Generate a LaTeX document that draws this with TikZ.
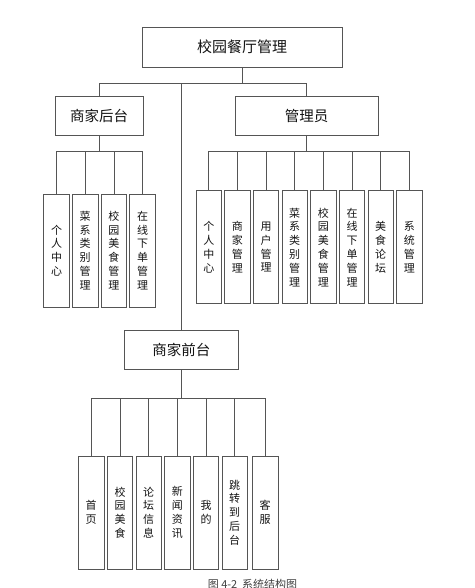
\documentclass[tikz,border=0pt]{standalone}
\usepackage{fontspec}
\newfontfamily\cjk{Noto Sans CJK SC}
\definecolor{ln}{RGB}{85,85,85}
\definecolor{tx}{RGB}{20,20,20}
\begin{document}
\begin{tikzpicture}[x=1pt,y=1pt,
  every node/.style={font=\cjk, text=tx},
  bigbox/.style={draw=ln, line width=0.9pt, minimum height=39pt, inner sep=0pt, font=\cjk\fontsize{14.5}{16}\selectfont},
  leaf/.style={draw=ln, line width=0.9pt, minimum width=25.5pt, minimum height=113pt, inner sep=0pt, align=center, font=\cjk\fontsize{11}{13.8}\selectfont},
  conn/.style={draw=ln, line width=0.8pt}]
\useasboundingbox (0,0) rectangle (474,-588);
\fill[white] (0,0) rectangle (474,-588);

% top level
\node[bigbox, minimum width=200pt, minimum height=40pt, font=\cjk\fontsize{15}{17}\selectfont] (top) at (242,-47) {校园餐厅管理};
\node[bigbox, minimum width=88pt] (hb) at (99,-115.5) {商家后台};
\node[bigbox, minimum width=143pt] (gly) at (306.5,-115.5) {管理员};
\node[bigbox, minimum width=114.7pt] (qt) at (181.4,-349.5) {商家前台};

% bus coordinates
\coordinate (b0) at (0,-83);
\coordinate (b1) at (0,-151);
\coordinate (b2) at (0,-398.7);

% left children
\node[leaf] (l1) at (56.5,-250.5) {个\\人\\中\\心};
\node[leaf] (l2) at (85.2,-250.5) {菜\\系\\类\\别\\管\\理};
\node[leaf] (l3) at (113.9,-250.5) {校\\园\\美\\食\\管\\理};
\node[leaf] (l4) at (142.6,-250.5) {在\\线\\下\\单\\管\\理};

% right children
\node[leaf] (r1) at (208.8,-247.2) {个\\人\\中\\心};
\node[leaf] (r2) at (237.4,-247.2) {商\\家\\管\\理};
\node[leaf] (r3) at (266.1,-247.2) {用\\户\\管\\理};
\node[leaf] (r4) at (294.7,-247.2) {菜\\系\\类\\别\\管\\理};
\node[leaf] (r5) at (323.4,-247.2) {校\\园\\美\\食\\管\\理};
\node[leaf] (r6) at (352.1,-247.2) {在\\线\\下\\单\\管\\理};
\node[leaf] (r7) at (380.7,-247.2) {美\\食\\论\\坛};
\node[leaf] (r8) at (409.4,-247.2) {系\\统\\管\\理};

% bottom children
\node[leaf] (c1) at (91.2,-512.5) {首\\页};
\node[leaf] (c2) at (120,-512.5) {校\\园\\美\\食};
\node[leaf] (c3) at (148.7,-512.5) {论\\坛\\信\\息};
\node[leaf] (c4) at (177.4,-512.5) {新\\闻\\资\\讯};
\node[leaf] (c5) at (206,-512.5) {我\\的};
\node[leaf] (c6) at (234.7,-512.5) {跳\\转\\到\\后\\台};
\node[leaf] (c7) at (265.2,-512.5) {客\\服};

% connectors: top level
\draw[conn] (top.south) -- (top.south |- b0);
\draw[conn] (top.south |- b0) -| (hb.north);
\draw[conn] (top.south |- b0) -| (gly.north);
\draw[conn] (top.south |- b0) -| (qt.north);

% left branch
\draw[conn] (hb.south) -- (hb.south |- b1);
\foreach \n in {l1,l2,l3,l4} \draw[conn] (hb.south |- b1) -| (\n.north);

% right branch
\draw[conn] (gly.south) -- (gly.south |- b1);
\foreach \n in {r1,r2,r3,r4,r5,r6,r7,r8} \draw[conn] (gly.south |- b1) -| (\n.north);

% bottom branch
\draw[conn] (qt.south) -- (qt.south |- b2);
\foreach \n in {c1,c2,c3,c4,c5,c6,c7} \draw[conn] (qt.south |- b2) -| (\n.north);

% caption
\node[font=\cjk\fontsize{11}{13}\selectfont, text=black!75] (cap) at (252.5,-584) {图 4-2\ \ 系统结构图};
\end{tikzpicture}
\end{document}
